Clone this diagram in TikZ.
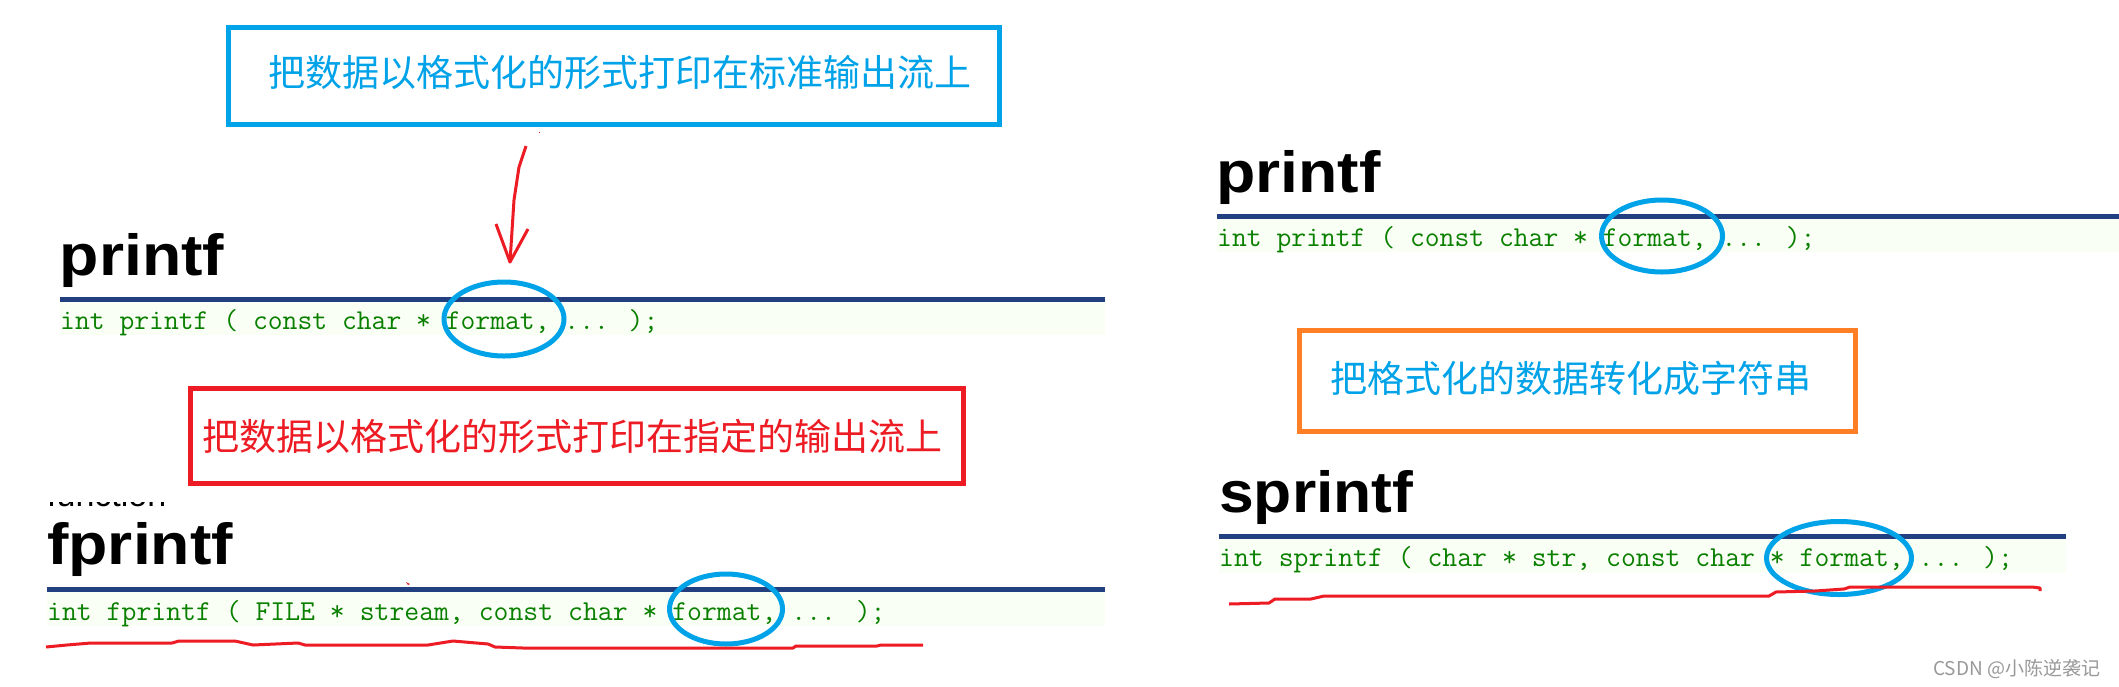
\documentclass[tikz,border=0pt]{standalone}
\usepackage{fontspec}
\usetikzlibrary{shapes.geometric}
\newfontfamily\cjkfont{Noto Sans CJK SC}
\newfontfamily\headfont{Liberation Sans}
\definecolor{pblue}{HTML}{00A2E8}
\definecolor{pred}{HTML}{ED1C24}
\definecolor{porange}{HTML}{FF7F27}
\definecolor{navy}{HTML}{224080}
\definecolor{pale}{HTML}{FAFFF6}
\definecolor{codegreen}{HTML}{0A8000}
\tikzset{
  framebox/.style={draw,line width=5pt,rectangle,inner sep=0pt,outer sep=0pt},
  cjklabel/.style={anchor=base west,inner sep=0pt,font=\cjkfont\fontsize{37}{37}\selectfont},
  headlabel/.style={anchor=base west,inner sep=0pt,xscale=1.11,font=\headfont\bfseries\fontsize{58}{58}\selectfont},
  codelabel/.style={anchor=base west,inner sep=0pt,text=codegreen,font=\ttfamily\fontsize{28.8}{29}\selectfont},
  codewide/.style={anchor=base west,inner sep=0pt,text=codegreen,font=\ttfamily\fontsize{28.9}{29}\selectfont},
  ring/.style={ellipse,draw=pblue,line width=5pt,inner sep=0pt,outer sep=0pt},
  scrawl/.style={draw=pred,line width=3pt,line join=round},
}
\begin{document}
\begin{tikzpicture}[x=1pt,y=-1pt]
\useasboundingbox (0,0) rectangle (2119,686);
\fill[white] (0,0) rectangle (2119,686);

% pale code bars and rules
\fill[pale] (60,302) rectangle (1105,335);
\fill[navy] (60,297) rectangle (1105,302);
\fill[pale] (47,592) rectangle (1105,626);
\fill[navy] (47,587) rectangle (1105,592);
\fill[pale] (1217,219) rectangle (2119,252);
\fill[navy] (1217,214) rectangle (2119,219);
\fill[pale] (1219,539) rectangle (2066,573);
\fill[navy] (1219,534) rectangle (2066,539);

% top-left box
\node[framebox,draw=pblue,minimum width=771pt,minimum height=97pt] (boxa) at (614,76) {};
\node[cjklabel,text=pblue] (texta) at (268,86) {把数据以格式化的形式打印在标准输出流上};

% printf left
\node[headlabel] (heada) at (59.5,275.5) {printf};
\node[codelabel] (codea) at (60,329) {int printf ( const char * format, ... );};
\node[ring,minimum width=120pt,minimum height=74pt] (ringa) at (504,319) {};

% hand-drawn arrow
\coordinate (arrowstart) at (526,146);
\coordinate (arrowtip) at (510,262);
\draw[scrawl] (arrowstart) -- (519,167) -- (514,200) -- (arrowtip);
\draw[scrawl] (496,224) -- (arrowtip) -- (528,229);
\fill[pred] (538.5,131.5) rectangle (540,133);

% red box
\node[framebox,draw=pred,minimum width=773pt,minimum height=95pt] (boxb) at (577,436) {};
\node[cjklabel,text=pred] (textb) at (202,450) {把数据以格式化的形式打印在指定的输出流上};

% clipped line above fprintf
\begin{scope}
\clip (44,502) rectangle (172,506);
\node[anchor=base west,inner sep=0pt,font=\headfont\fontsize{34}{34}\selectfont] (fnword) at (47,506) {function};
\end{scope}

% fprintf
\node[headlabel,xscale=1.0] (headb) at (47,564.5) {fprintf};
\node[codewide] (codeb) at (47,620) {int fprintf ( FILE * stream, const char * format, ... );};
\node[ring,minimum width=113pt,minimum height=70pt] (ringb) at (726,609) {};
\fill[pred] (406,582) -- (410,584) -- (408,585) -- cycle;
\draw[scrawl] (46,647) -- (67,645) -- (91,643) -- (172,643) -- (179,641) -- (235,641) -- (253,645) -- (298,643) -- (305,645) -- (428,645) -- (453,641) -- (488,644) -- (495,647) -- (523,648) -- (793,648) -- (796,646) -- (877,646) -- (881,645) -- (923,645);

% printf right
\node[headlabel] (headc) at (1216,192) {printf};
\node[codelabel] (codec) at (1217,246) {int printf ( const char * format, ... );};
\node[ring,minimum width=121pt,minimum height=72pt] (ringc) at (1662,236) {};

% orange box
\node[framebox,draw=porange,minimum width=556pt,minimum height=101pt] (boxc) at (1577.5,381) {};
\node[cjklabel,text=pblue] (textc) at (1330,392) {把格式化的数据转化成字符串};

% sprintf
\node[headlabel,xscale=0.97] (headd) at (1219,512) {sprintf};
\node[codewide] (coded) at (1219,566) {int sprintf ( char * str, const char * format, ... );};
\node[ring,minimum width=145pt,minimum height=73pt] (ringd) at (1839,558) {};
\draw[scrawl] (1229,604) -- (1269,603) -- (1275,599) -- (1311,599) -- (1324,596) -- (1769,596) -- (1776,592) -- (1815,591) -- (1844,589) -- (1850,587) -- (2032,587) -- (2040,588) -- (2040,591);

% watermark
\node[anchor=base west,inner sep=0pt,text=black!40,font=\cjkfont\fontsize{19}{19}\selectfont] (mark) at (1933,675) {CSDN @小陈逆袭记};
\end{tikzpicture}
\end{document}
